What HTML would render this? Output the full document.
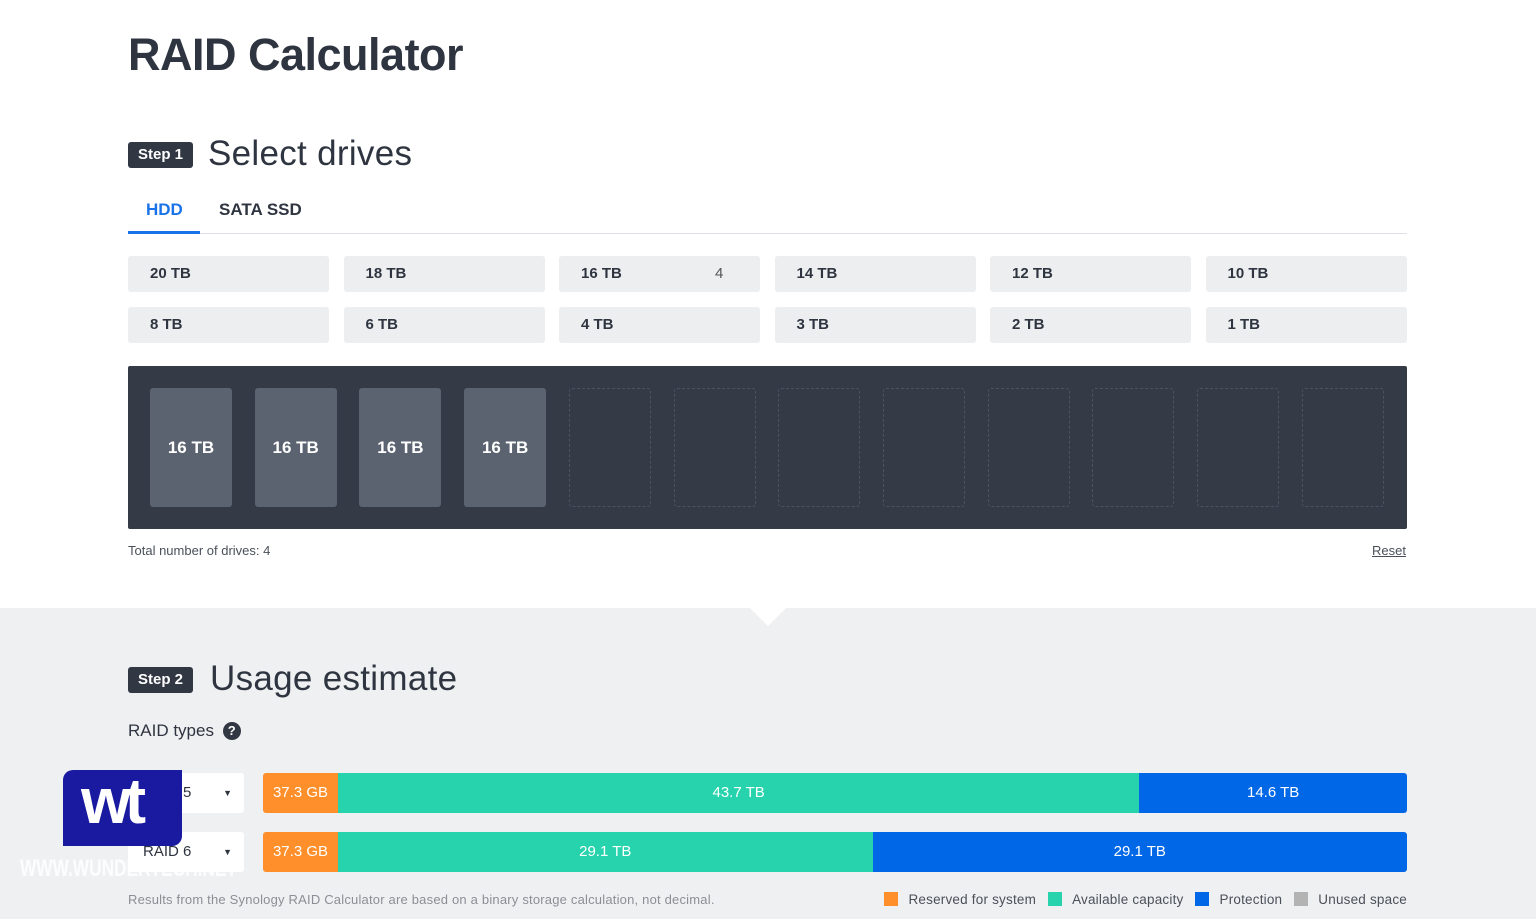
<!DOCTYPE html>
<html><head><meta charset="utf-8"><style>
*{box-sizing:border-box;margin:0;padding:0}
body{width:1536px;height:919px;overflow:hidden;background:#fff;font-family:"Liberation Sans",sans-serif;color:#2f3540;position:relative}
.abs{position:absolute}
h1{position:absolute;left:128px;top:29px;font-size:45px;font-weight:bold;letter-spacing:-0.5px}
.step{position:absolute;background:#323843;color:#fff;font-size:15px;font-weight:bold;border-radius:3px;height:26px;line-height:26px;padding:0 10px}
.h2{position:absolute;font-size:35px;color:#2f3540;letter-spacing:0.3px}
.btn{position:absolute;width:201px;height:36px;background:#eceef0;border-radius:3px;font-size:15px;font-weight:bold;line-height:36px;padding-left:22px}
.slot{position:absolute;top:388px;width:82px;height:119px;border-radius:3px}
.seg{position:absolute;top:0;height:40px;line-height:40px;color:#fff;font-size:15px;text-align:center}
.lg{display:inline-block;width:14px;height:14px;vertical-align:-2px;margin:0 10px 0 12px}
</style></head><body>
<h1>RAID Calculator</h1>
<div class="step" style="left:128px;top:142px">Step 1</div>
<div class="h2" style="left:208px;top:134px">Select drives</div>
<div class="abs" style="left:146px;top:200px;font-size:17px;font-weight:bold;color:#1a73e8">HDD</div>
<div class="abs" style="left:219px;top:200px;font-size:17px;font-weight:bold">SATA SSD</div>
<div class="abs" style="left:128px;top:233px;width:1279px;height:1px;background:#dcdfe3"></div>
<div class="abs" style="left:128px;top:231px;width:72px;height:3px;background:#1a73e8"></div>
<div id="btns"></div>
<div class="abs" style="left:128px;top:366px;width:1279px;height:163px;background:#343a46;border-radius:2px"></div>
<div id="slots"></div>
<div class="abs" style="left:128px;top:543px;font-size:13px;color:#4a505a">Total number of drives: 4</div>
<div class="abs" style="left:1372px;top:543px;font-size:13px;color:#4a505a;text-decoration:underline">Reset</div>
<div class="abs" style="left:0;top:608px;width:1536px;height:311px;background:#eff0f2"></div>
<div class="abs" style="left:750px;top:608px;width:0;height:0;border-left:18px solid transparent;border-right:18px solid transparent;border-top:18px solid #fff"></div>
<div class="step" style="left:128px;top:667px">Step 2</div>
<div class="h2" style="left:210px;top:659px">Usage estimate</div>
<div class="abs" style="left:128px;top:721px;font-size:17px">RAID types <span style="display:inline-block;width:18px;height:18px;border-radius:50%;background:#323843;color:#fff;font-size:13px;font-weight:bold;text-align:center;line-height:18px;vertical-align:1px;margin-left:4px">?</span></div>
<div class="abs" style="left:20px;top:855px;color:#fff;font-size:24px;font-weight:bold;opacity:0.9;transform:scaleX(0.72);transform-origin:0 0;white-space:nowrap">WWW.WUNDERTECH.NET</div>
<div class="abs" style="left:128px;top:773px;width:116px;height:40px;background:#fff;border-radius:3px;font-size:15px;line-height:40px;padding-left:15px">RAID 5<span style="position:absolute;right:12px;font-size:9px">▼</span></div>
<div class="abs" style="left:128px;top:832px;width:116px;height:40px;background:#fff;border-radius:3px;font-size:15px;line-height:40px;padding-left:15px">RAID 6<span style="position:absolute;right:12px;font-size:9px">▼</span></div>
<div id="bars"></div>
<div class="abs" style="left:128px;top:892px;font-size:13px;color:#8a8f97;letter-spacing:0.2px">Results from the Synology RAID Calculator are based on a binary storage calculation, not decimal.</div>
<div class="abs" style="right:129px;top:892px;font-size:13.5px;color:#4a505a;letter-spacing:0.2px"><span class="lg" style="background:#ff8f2a"></span>Reserved for system<span class="lg" style="background:#26d3ad"></span>Available capacity<span class="lg" style="background:#0067e6"></span>Protection<span class="lg" style="background:#b3b3b3"></span>Unused space</div>
<div class="abs" style="left:63px;top:770px;width:119px;height:76px;background:#1a1aa0;border-radius:10px 0 10px 0"><span style="position:absolute;left:18px;top:-6px;color:#fff;font-size:64px;font-weight:bold;letter-spacing:-6px">wt</span></div>
<script>
const sizes=["20 TB","18 TB","16 TB","14 TB","12 TB","10 TB","8 TB","6 TB","4 TB","3 TB","2 TB","1 TB"];
const drives=["16 TB","16 TB","16 TB","16 TB"];
const rows=["RAID 5","RAID 6"];
const reserved=["37.3 GB","37.3 GB"];
const available=[43.7,29.1];
const protection=[14.6,29.1];
const B=document.getElementById('btns');
sizes.forEach((s,i)=>{const d=document.createElement('div');d.className='btn';


d.style.left=(128+(i%6)*215.5)+'px';d.style.top=(256+Math.floor(i/6)*51)+'px';d.textContent=s;
if(s=="16 TB"){const c=document.createElement('span');c.textContent=drives.length;c.style.cssText='position:absolute;left:156px;font-weight:normal;color:#555';d.appendChild(c);}
B.appendChild(d);});
const S=document.getElementById('slots');
for(let i=0;i<12;i++){const d=document.createElement('div');d.className='slot';


d.style.left=(150+i*104.7)+'px';
if(i<drives.length){d.style.background='#5c6370';d.style.cssText+=';color:#fff;font-size:17px;font-weight:bold;text-align:center;line-height:119px';d.textContent=drives[i];}
else{d.style.border='1px dashed #4c5260';}
S.appendChild(d);}
const R=document.getElementById('bars');
const X0=263,W=1144,OW=75;
rows.forEach((r,i)=>{const row=document.createElement('div');row.className='abs';


row.style.cssText=`left:${X0}px;top:${773+i*58.5}px;width:${W}px;height:40px;border-radius:3px;overflow:hidden`;
const tot=available[i]+protection[i];const sc=(W-OW)/tot;
const segs=[[0,OW,'#ff8f2a',reserved[i]],[OW,available[i]*sc,'#26d3ad',available[i].toFixed(1)+' TB'],[OW+available[i]*sc,protection[i]*sc,'#0067e6',protection[i].toFixed(1)+' TB']];
segs.forEach(s=>{const d=document.createElement('div');d.className='seg';


d.style.left=s[0]+'px';d.style.width=s[1]+'px';d.style.background=s[2];d.textContent=s[3];row.appendChild(d);});
R.appendChild(row);});
</script>
</body></html>
